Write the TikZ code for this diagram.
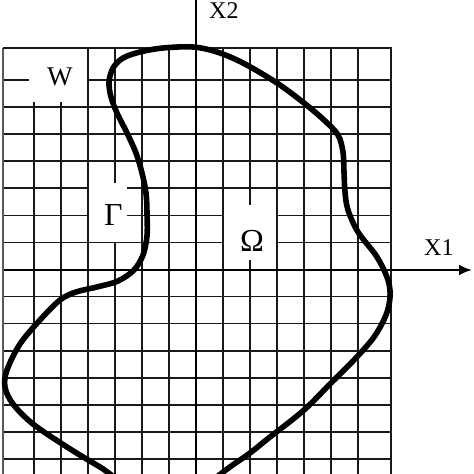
\documentclass[tikz,border=0pt]{standalone}
\usepackage{fontspec}
\setmainfont{Liberation Serif}
\usetikzlibrary{calc}
\usetikzlibrary{positioning}
\usetikzlibrary{arrows.meta}
\newcommand{\gridColor}{black!90}
\newcommand{\curveColor}{black}
\newcommand{\gapSize}{27.07}
\newcommand{\clearBox}[2]{
	\fill[labelBackground] (#1) rectangle (#2);
}
\tikzset{gridLine/.style = {\gridColor, line width=1.6pt}}
\tikzset{frameLine/.style = {black!65, line width=1.8pt}}
\tikzset{axis/.style = {black, line width=2.6pt}}
\tikzset{boundary/.style = {\curveColor, line width=5.6pt, line join=round}}
\tikzset{labelBackground/.style = {fill=white}}
\tikzset{domainLabel/.style = {inner sep=0pt, anchor=base west}}

\begin{document}
\begin{tikzpicture}[x=1pt, y=-1pt]
                        \useasboundingbox (0,0) rectangle (474,474);
                        \clip (0,0) rectangle (474,474);

                        \begin{scope}
                            \foreach \k in {0,...,12}
                            {
                                \draw[gridLine] (34+27*\k,48) -- (34+27*\k,480);
                            }
                            \foreach \k in {0,...,14}
                            {
                                \draw[gridLine] (3,80+\gapSize*\k) -- (391,80+\gapSize*\k);
                            }

                            \clearBox{28.8,49}{87.2,102}
                            \clearBox{88.8,183}{127,242}
                            \clearBox{223.8,205}{276.2,260}

                            \draw[frameLine] (3,48) -- (3,480);
                            \draw[gridLine] (3,48) -- (391,48) -- (391,480);
                        \end{scope}

                        \begin{scope}
                            \coordinate (O) at (196,270);
                            \coordinate (X1start) at (4,270);
                            \coordinate (X1end) at (472,270);
                            \coordinate (X2start) at (196,480);
                            \coordinate (X2end) at (196,-20);

                            \draw[axis, -{Latex[length=13pt, width=11pt]}] (X1start) -- (X1end);
                            \draw[axis, -{Latex[length=13pt, width=11pt]}] (X2start) -- (X2end);

                            \draw[boundary] plot[smooth cycle, tension=0.55] coordinates {
                                (193,47) (217,52) (243,63) (277,83) (304,103) (324,120)
                                (338,135) (343,152) (344,172) (345,192) (348,210) (358,232)
                                (377,257) (388,280) (390,297) (386,315) (374,337) (354,360)
                                (330,384) (304,410) (270,437) (237,462) (165,505)
                                (100,467) (67,447) (33,424) (13,404) (5,387) (7,370)
                                (20,344) (40,320) (60,300) (76,292) (97,287) (118,281)
                                (134,270) (143,255) (147,236) (147,213) (146,193) (142,173)
                                (136,153) (127,133) (117,113) (111,97) (109,82) (113,68)
                                (123,58) (140,52) (163,48)};
                        \end{scope}

                        \node[domainLabel, font=\fontsize{27}{27}\selectfont] (W) at (47,85) {W};
                        \node[domainLabel, font=\fontsize{32}{32}\selectfont] (Gamma) at (104,225) {Γ};
                        \node[domainLabel, font=\fontsize{32}{32}\selectfont] (Omega) at (240,251) {Ω};
                        \node[domainLabel, font=\fontsize{24}{24}\selectfont] (X1) at (424,255) {X1};
                        \node[domainLabel, font=\fontsize{24}{24}\selectfont] (X2) at (209,18) {X2};
                    \end{tikzpicture}
\end{document}
